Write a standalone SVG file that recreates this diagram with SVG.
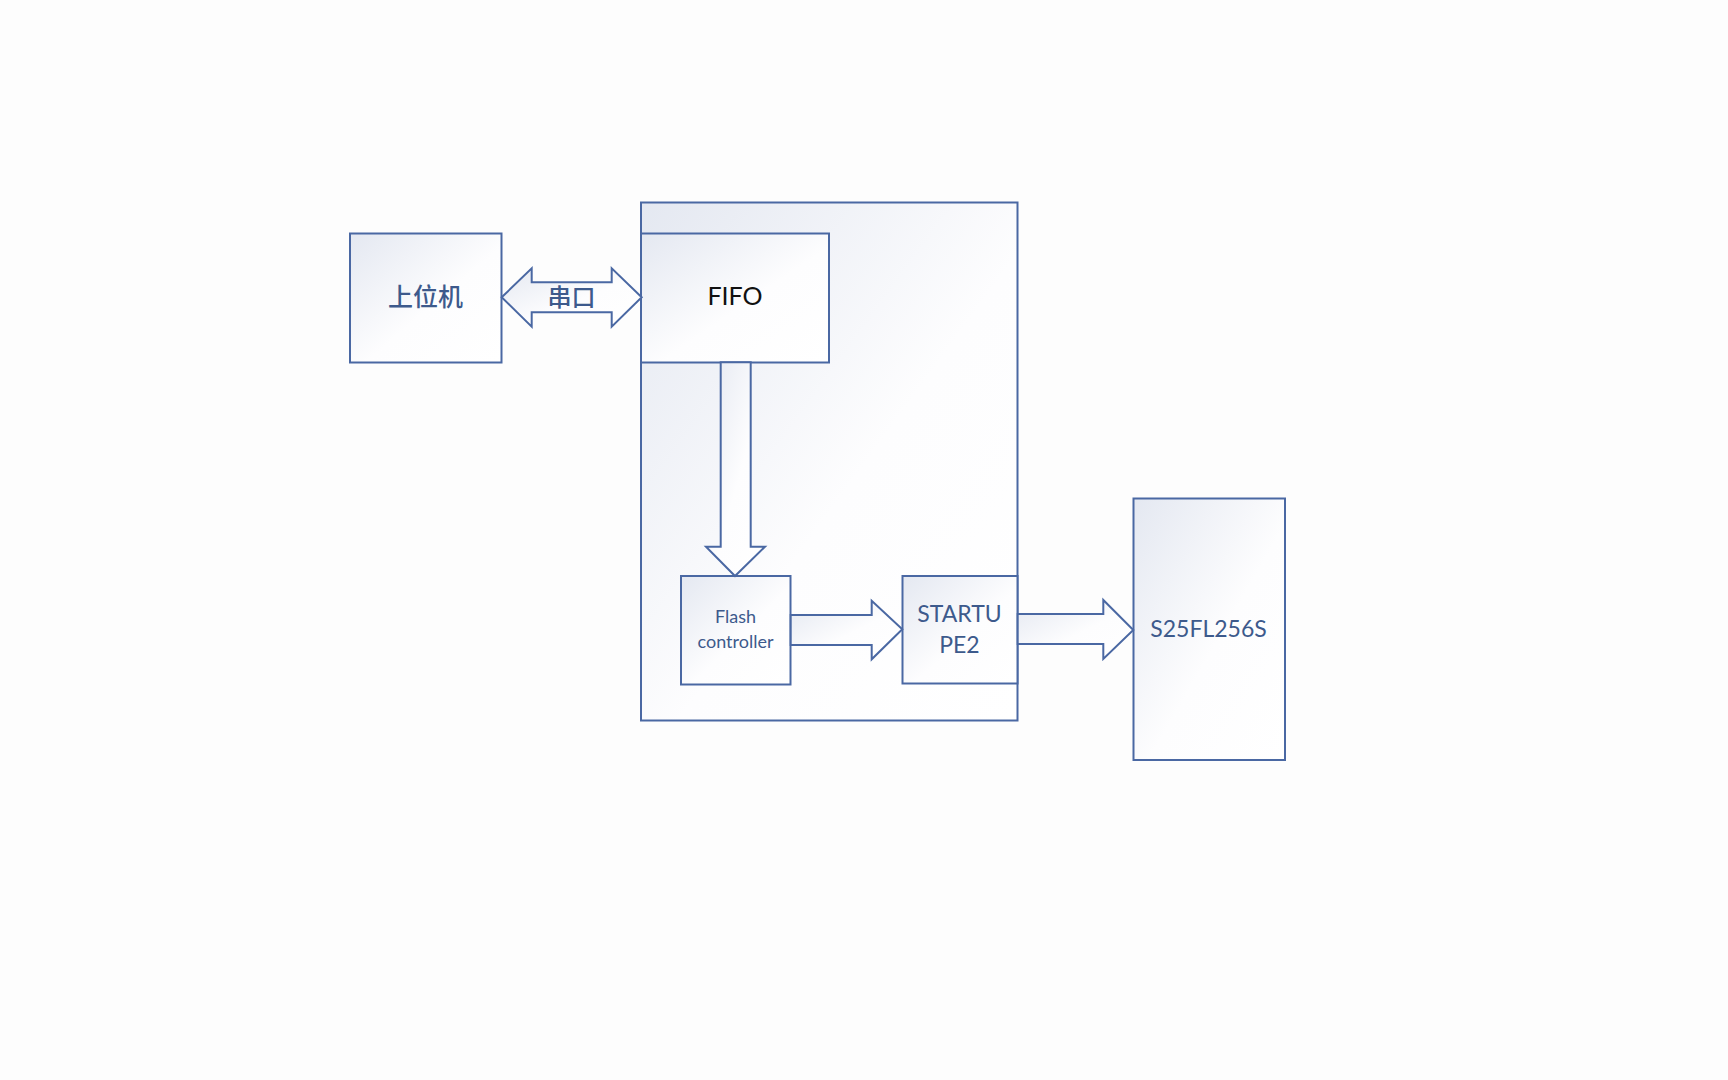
<svg xmlns="http://www.w3.org/2000/svg" width="1728" height="1080" viewBox="0 0 1728 1080">
<defs>
<linearGradient id="g" x1="0" y1="0" x2="1" y2="1">
<stop offset="0" stop-color="#e4e8f1"/>
<stop offset="0.55" stop-color="#fdfdfe"/>
<stop offset="1" stop-color="#ffffff"/>
</linearGradient>
<style>
.s{fill:url(#g);stroke:#4a68a3;stroke-width:2;stroke-linejoin:miter}
.t{font-family:Lato,"Noto Sans CJK SC",sans-serif;fill:#3d5a8c;text-anchor:middle}
.c{font-family:"Noto Sans CJK SC",sans-serif;font-weight:500}
</style>
</defs>
<rect width="1728" height="1080" fill="#fdfdfd"/>
<g id="container"><rect class="s" x="641" y="202.5" width="376.5" height="518"/></g>
<g id="host"><rect class="s" x="350" y="233.5" width="151.5" height="129"/><text class="t c" x="425.5" y="306" font-size="25">上位机</text></g>
<g id="fifo"><rect class="s" x="641" y="233.5" width="188" height="129"/><text class="t" x="735" y="305" font-size="25" style="fill:#111111">FIFO</text></g>
<g id="flash"><rect class="s" x="681" y="576" width="109.5" height="108.5"/><text class="t" x="735.5" y="623" font-size="18">Flash</text><text class="t" x="735.5" y="648" font-size="18">controller</text></g>
<g id="startup"><rect class="s" x="902.5" y="576" width="115" height="107.5"/><text class="t" x="959.5" y="621.5" font-size="23">STARTU</text><text class="t" x="959.5" y="652.5" font-size="23">PE2</text></g>
<g id="s25"><rect class="s" x="1133.5" y="498.5" width="151.5" height="261.5"/><text class="t" x="1208.5" y="636.5" font-size="23">S25FL256S</text></g>
<g id="connectors">
<path class="s" d="M501.7,297.3 L531.7,268.3 L531.7,282.3 L611.7,282.3 L611.7,268.3 L641.7,297.3 L611.7,326.7 L611.7,312.3 L531.7,312.3 L531.7,326.7 Z"/>
<text class="t c" x="571.5" y="306" font-size="24">串口</text>
<path class="s" d="M720.7,362.3 L750.7,362.3 L750.7,546.7 L765,546.7 L735,576 L706,546.7 L720.7,546.7 Z"/>
<path class="s" d="M790.7,615 L871.7,615 L871.7,600.7 L902.3,629.3 L871.7,659.3 L871.7,645 L790.7,645 Z"/>
<path class="s" d="M1017.7,614 L1103.3,614 L1103.3,600 L1133.3,630 L1103.3,659 L1103.3,644 L1017.7,644 Z"/>
</g>
</svg>
